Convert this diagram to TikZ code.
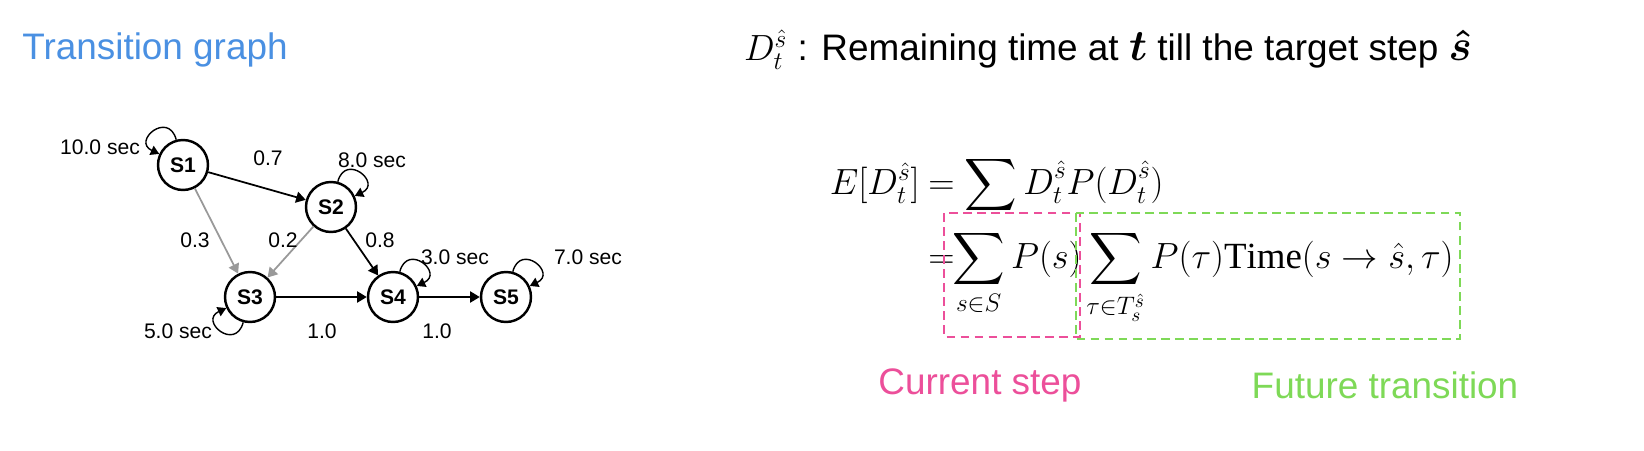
\documentclass[tikz,border=0pt]{standalone}
\usepackage{amsmath}
\usepackage{fontspec}
\setmainfont{Liberation Serif}
\setsansfont{Liberation Sans}
\usepackage{xcolor}
\definecolor{cblue}{HTML}{4A90E2}
\definecolor{cpink}{HTML}{EC4F9A}
\definecolor{cgreen}{HTML}{7ED957}
\usetikzlibrary{arrows.meta, positioning, calc}

\begin{document}
\begin{tikzpicture}[x=0.02cm, y=-0.02cm, >=Triangle,
  state/.style={draw, circle, line width=1.4pt, minimum size=1cm, inner sep=0pt, font=\sffamily\bfseries\large},
  edgelabel/.style={draw=none, fill=none, font=\sffamily\fontsize{12}{14}\selectfont},
  bigtext/.style={font=\sffamily\fontsize{21}{25}\selectfont},
  mathtext/.style={inner sep=0pt, font=\fontsize{21}{25}\selectfont},
  highlight/.style={line width=1.6pt, dash pattern=on 5pt off 3pt},
  selfloop/.style={->, line width=0.8pt, looseness=3.5}]

  \useasboundingbox (0,0) rectangle (1644,450);

  % Titles
  \node[bigtext, text=cblue] (title) at (155,50) {Transition graph};
  \node[bigtext] (remain) at (1108,50)
    {$D_t^{\hat{s}}$ : Remaining time at {\fontsize{30}{30}\selectfont$\boldsymbol{t}$} till the target step {\fontsize{30}{30}\selectfont$\boldsymbol{\hat{s}}$}};

  % States
  \node[state] (S1) at (183,165) {S1};
  \node[state] (S2) at (331,207) {S2};
  \node[state] (S3) at (250,297) {S3};
  \node[state] (S4) at (393,297) {S4};
  \node[state] (S5) at (506,297) {S5};

  % Self-loops
  \draw[selfloop] (S1.105) to[out=105, in=155] (S1.155);
  \draw[selfloop] (S2.75) to[out=75, in=25] (S2.25);
  \draw[selfloop] (S3.255) to[out=255, in=205] (S3.205);
  \draw[selfloop] (S4.75) to[out=75, in=25] (S4.25);
  \draw[selfloop] (S5.75) to[out=75, in=25] (S5.25);

  % Transitions
  \draw[->, line width=1pt] (S1) -- (S2);
  \draw[->, line width=1pt, gray!80] (S1) -- (S3);
  \draw[->, line width=1pt, gray!80] (S2) -- (S3);
  \draw[->, line width=1pt] (S2) -- (S4);
  \draw[->, line width=1pt] (S3) -- (S4);
  \draw[->, line width=1pt] (S4) -- (S5);

  % Labels
  \node[edgelabel] (l1) at (100,147) {10.0 sec};
  \node[edgelabel] (l2) at (372,160) {8.0 sec};
  \node[edgelabel] (l3) at (455,257) {3.0 sec};
  \node[edgelabel] (l4) at (588,257) {7.0 sec};
  \node[edgelabel] (l5) at (178,331) {5.0 sec};
  \node[edgelabel] (p12) at (268,158) {0.7};
  \node[edgelabel] (p13) at (195,240) {0.3};
  \node[edgelabel] (p23) at (283,240) {0.2};
  \node[edgelabel] (p24) at (380,240) {0.8};
  \node[edgelabel] (p34) at (322,331) {1.0};
  \node[edgelabel] (p45) at (437,331) {1.0};

  % Expectation, first line
  \node[mathtext, anchor=base east] (lhs) at (920,194) {$E[D_t^{\hat{s}}]$};
  \node[mathtext, anchor=base west] (rhs1) at (928,194)
    {$=\displaystyle\sum D_t^{\hat{s}} P(D_t^{\hat{s}})$};
  % second line
  \node[mathtext, anchor=base west] (eq2) at (928,268) {$=$};
  \node[mathtext, anchor=base west] (partS) at (952,268) {$\displaystyle\sum_{s\in S} P(s)$};
  \node[mathtext, anchor=base west] (partT) at (1086,268)
    {$\displaystyle\sum_{\tau\in T_s^{\hat{s}}} P(\tau)\mathrm{Time}(s\rightarrow\hat{s},\tau)$};

  % Highlight boxes
  \draw[cpink, highlight] ($(partS.west |- 0,213)+(-8,0)$) rectangle ($(partS.east |- 0,337)+(-2,0)$);
  \draw[cgreen, highlight] ($(partT.west |- 0,213)+(-10,0)$) rectangle ($(partT.east |- 0,339)+(6,0)$);
  \node[bigtext, text=cpink] (cur) at (980,385) {Current step};
  \node[bigtext, text=cgreen] (fut) at (1385,385) {Future transition};

\end{tikzpicture}
\end{document}
